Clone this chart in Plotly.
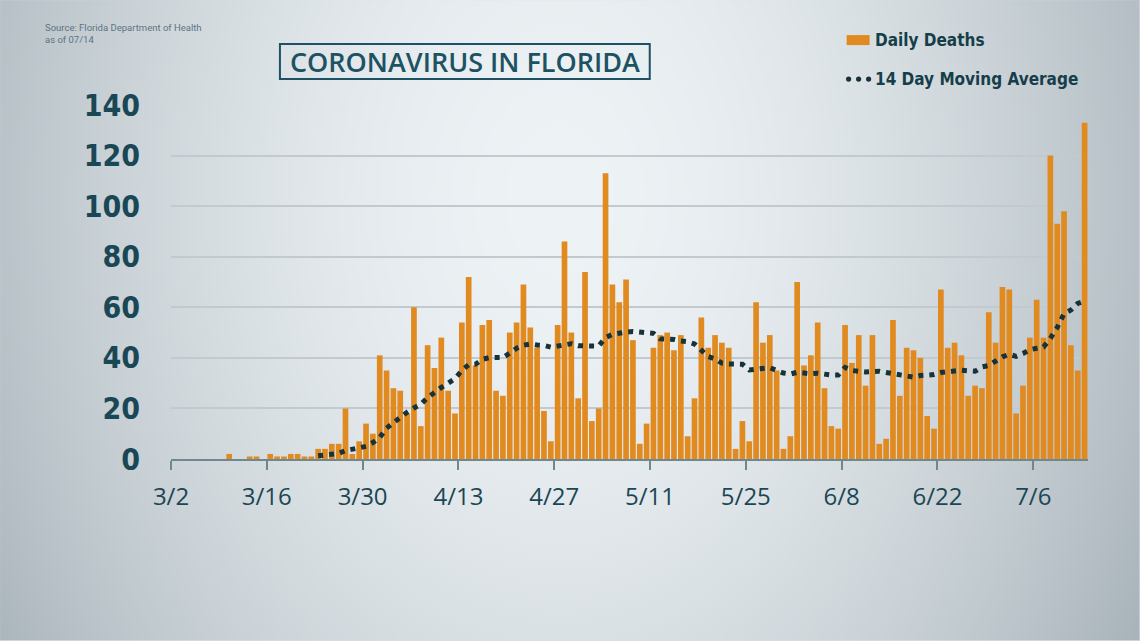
import base64
import struct
import zlib
from datetime import date, timedelta

import numpy as np
import plotly.graph_objects as go

# ---------------- data ----------------
start_date = date(2020, 3, 2)
daily_deaths = [
    0, 0, 0, 0, 0, 0, 0, 0, 2, 0,            # 3/2 - 3/11
    0, 1, 1, 0, 2, 1, 1, 2, 2, 1,            # 3/12 - 3/21
    1, 4, 4, 6, 6, 20, 2, 7, 14, 10,         # 3/22 - 3/31
    41, 35, 28, 27, 18, 60, 13, 45, 36, 48,  # 4/1 - 4/10
    27, 18, 54, 72, 37, 53, 55, 27, 25, 50,  # 4/11 - 4/20
    54, 69, 52, 44, 19, 7, 53, 86, 50, 24,   # 4/21 - 4/30
    74, 15, 20, 113, 69, 62, 71, 47, 6, 14,  # 5/1 - 5/10
    44, 49, 50, 43, 49, 9, 24, 56, 44, 49,   # 5/11 - 5/20
    46, 44, 4, 15, 7, 62, 46, 49, 35, 4,     # 5/21 - 5/30
    9, 70, 37, 41, 54, 28, 13, 12, 53, 38,   # 5/31 - 6/9
    49, 29, 49, 6, 8, 55, 25, 44, 43, 40,    # 6/10 - 6/19
    17, 12, 67, 44, 46, 41, 25, 29, 28, 58,  # 6/20 - 6/29
    46, 68, 67, 18, 29, 48, 63, 48, 120, 93, # 6/30 - 7/9
    98, 45, 35, 133,                         # 7/10 - 7/13
]
ma_start_index = 21  # 3/23
moving_avg = [
    1.3, 1.5, 1.9, 2.2, 3.3, 3.9, 4.3, 5.0, 6.5,                  # 3/23 - 3/31
    8.5, 12.2, 14.4, 16.5, 18.5, 20.2, 21.6, 24.3, 26.5, 28.3,   # 4/1 - 4/10
    30.0, 31.8, 35.0, 37.3, 37.5, 39.4, 40.1, 40.3, 40.1, 41.8,  # 4/11 - 4/20
    43.8, 45.0, 45.5, 45.1, 44.9, 44.2, 44.6, 45.2, 45.6, 44.8,  # 4/21 - 4/30
    44.6, 44.7, 44.7, 48.0, 49.3, 49.9, 50.2, 50.4, 50.2, 49.9,  # 5/1 - 5/10
    49.7, 47.5, 47.4, 47.3, 46.7, 46.4, 45.5, 43.0, 40.5, 39.6,  # 5/11 - 5/20
    37.9, 37.6, 37.5, 37.5, 35.2, 35.5, 35.9, 36.1, 35.0, 34.0,  # 5/21 - 5/30
    33.6, 34.3, 34.0, 33.7, 33.9, 33.4, 33.2, 33.2, 36.2, 35.0,  # 5/31 - 6/9
    34.6, 34.4, 34.6, 34.7, 34.2, 33.7, 33.2, 32.8, 32.4, 33.0,  # 6/10 - 6/19
    33.3, 33.4, 34.2, 34.5, 34.6, 35.1, 34.9, 34.7, 36.4, 37.0,  # 6/20 - 6/29
    38.7, 40.4, 41.4, 40.6, 41.7, 43.2, 43.8, 44.3, 47.7, 52.0,  # 6/30 - 7/9
    57.5, 58.9, 61.5, 62.5,                                      # 7/10 - 7/13
]
tick_dates = ["2020-03-02", "2020-03-16", "2020-03-30", "2020-04-13", "2020-04-27",
              "2020-05-11", "2020-05-25", "2020-06-08", "2020-06-22", "2020-07-06"]
tick_labels = ["3/2", "3/16", "3/30", "4/13", "4/27", "5/11", "5/25", "6/8", "6/22", "7/6"]
y_ticks = [0, 20, 40, 60, 80, 100, 120, 140]

dates = [start_date + timedelta(days=i) for i in range(len(daily_deaths))]
ma_dates = dates[ma_start_index:ma_start_index + len(moving_avg)]

# ---------------- layout geometry (pixels) ----------------
W, H = 1140, 641
PL, PR, PT, PB = 171, 51.5, 105, 181.5
PW = W - PL - PR
PH = H - PT - PB


def px(x):
    return (x - PL) / PW


def py(y):
    return (H - PB - y) / PH


# ---------------- background gradient image ----------------
def background_uri(w=285, h=160):
    xs = (np.arange(w) + 0.5) * W / w
    ys = (np.arange(h) + 0.5) * H / h
    X, Y = np.meshgrid(xs, ys)
    d = np.sqrt(((X - 560) / 720.0) ** 2 + ((Y - 200) / 1000.0) ** 2)
    t = np.clip(d, 0, 1.2) ** 1.7
    c0 = np.array([238, 243, 246], dtype=float)
    c1 = np.array([158, 170, 177], dtype=float)
    img = c0[None, None, :] * (1 - t[..., None]) + c1[None, None, :] * t[..., None]
    img = np.clip(img, 0, 255).astype(np.uint8)
    raw = b"".join(b"\x00" + img[r].tobytes() for r in range(h))

    def chunk(tag, data):
        return (struct.pack(">I", len(data)) + tag + data
                + struct.pack(">I", zlib.crc32(tag + data) & 0xFFFFFFFF))

    png = (b"\x89PNG\r\n\x1a\n"
           + chunk(b"IHDR", struct.pack(">IIBBBBB", w, h, 8, 2, 0, 0, 0))
           + chunk(b"IDAT", zlib.compress(raw, 9))
           + chunk(b"IEND", b""))
    return "data:image/png;base64," + base64.b64encode(png).decode()


TEXT = "#1a4755"
ORANGE = "#e08a1f"
DOT = "#17333a"

fig = go.Figure()
fig.add_trace(go.Bar(
    x=dates, y=daily_deaths, name="Daily Deaths",
    marker=dict(color=ORANGE, line=dict(width=0)),
    xperiod=86400000, xperiodalignment="middle",
    hoverinfo="x+y",
))
fig.add_trace(go.Scatter(
    x=ma_dates, y=moving_avg, name="14 Day Moving Average",
    mode="lines", line=dict(color=DOT, width=5, dash="5px,6px"),
    xperiod=86400000, xperiodalignment="middle",
))

fig.update_layout(
    width=W, height=H,
    margin=dict(l=PL, r=PR, t=PT, b=PB, pad=0),
    paper_bgcolor="#d9e0e4", plot_bgcolor="rgba(0,0,0,0)",
    showlegend=False, bargap=0.17,
    images=[dict(source=background_uri(), xref="paper", yref="paper",
                 x=px(0), y=py(0), sizex=W / PW, sizey=H / PH,
                 xanchor="left", yanchor="top", sizing="stretch", layer="below")],
)
fig.update_xaxes(
    type="date", range=["2020-03-02", "2020-07-14"],
    tickvals=tick_dates, ticktext=tick_labels,
    ticks="outside", ticklen=9, tickwidth=2, tickcolor="#6e8892",
    showline=True, linecolor="#6e8892", linewidth=2,
    showgrid=False, zeroline=False,
    tickfont=dict(family="Open Sans, Lato, sans-serif", size=24, color=TEXT),
    ticklabelstandoff=6,
)
fig.update_yaxes(
    range=[0, 140], tickvals=y_ticks,
    showgrid=True, gridcolor="#c2cacf", gridwidth=2,
    zeroline=False, showline=False, ticks="",
    tickfont=dict(family="DejaVu Sans Condensed, DejaVu Sans, sans-serif",
                  size=30, color=TEXT, weight="bold"),
    ticklabelstandoff=30,
)

shapes = [
    # title box
    dict(type="rect", xref="paper", yref="paper",
         x0=px(280), x1=px(650), y0=py(44), y1=py(79),
         line=dict(color="#1e5263", width=2), fillcolor="rgba(0,0,0,0)"),
    # legend swatch
    dict(type="rect", xref="paper", yref="paper",
         x0=px(847), x1=px(870), y0=py(35), y1=py(45),
         line=dict(width=0), fillcolor=ORANGE),
]
for cx in (849, 859, 869):
    shapes.append(dict(type="circle", xref="paper", yref="paper",
                       x0=px(cx - 2.6), x1=px(cx + 2.6), y0=py(76.4), y1=py(81.6),
                       line=dict(width=0), fillcolor=DOT))
fig.update_layout(shapes=shapes)

legend_font = dict(family="DejaVu Sans Condensed, DejaVu Sans, sans-serif",
                   size=17, color="#163e4a", weight="bold")
annotations = [
    dict(text="CORONAVIRUS IN FLORIDA", x=px(465), y=py(61.5), xref="paper", yref="paper",
         showarrow=False, xanchor="center", yanchor="middle",
         font=dict(family="Open Sans, sans-serif", size=27, color="#1e5263", weight=600)),
    dict(text="Source: Florida Department of Health<br>as of 07/14", x=px(43), y=py(20),
         xref="paper", yref="paper", showarrow=False, xanchor="left", yanchor="top",
         align="left",
         font=dict(family="Roboto, sans-serif", size=9.5, color="#5e7380")),
    dict(text="Daily Deaths", x=px(873), y=py(40), xref="paper", yref="paper",
         showarrow=False, xanchor="left", yanchor="middle", font=legend_font),
    dict(text="14 Day Moving Average", x=px(873), y=py(79), xref="paper", yref="paper",
         showarrow=False, xanchor="left", yanchor="middle", font=legend_font),
]
fig.update_layout(annotations=annotations)

fig.write_html("out.html")
